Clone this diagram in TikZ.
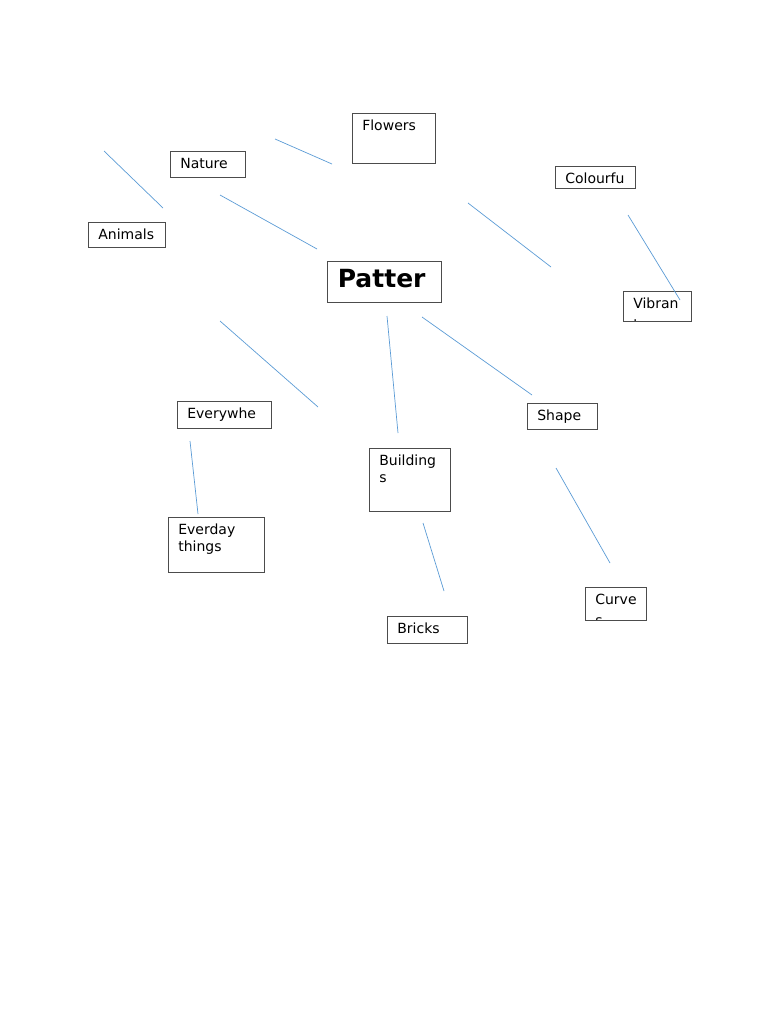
\documentclass[tikz,border=0pt]{standalone}
\usepackage{fontspec}
\setmainfont{DejaVu Sans}
\definecolor{linkblue}{RGB}{91,155,213}
\tikzset{
  box/.style={draw=black!70, line width=0.8pt, anchor=north west, inner sep=0pt},
  txt/.style={anchor=north west, inner sep=0pt, minimum size=0pt, align=left, font=\fontsize{14}{17}\selectfont},
  link/.style={draw=linkblue, line width=0.7pt}
}
\begin{document}
\begin{tikzpicture}[x=1pt, y=-1pt]
  \useasboundingbox (0,0) rectangle (768,1024);
  % text boxes, text clipped to the box
  \foreach \n/\x/\y/\w/\h/\t in {flowers/352/113/83/50/Flowers, nature/170/151/75/26/Nature,
      animals/88/222/77/25/Animals, colourful/555/166/80/22/Colourfu, vibrant/623/291/68/30/{Vibran\\[4pt]t},
      everywhere/177/401/94/27/Everywhe, buildings/369/448/81/63/{Building\\s},
      everyday/168/517/96/55/{Everday\\things}, shape/527/403/70/26/Shape,
      curves/585/587/61/33/{Curve\\[4pt]s}, bricks/387/616/80/27/Bricks}{
    \node[box, minimum width=\w, minimum height=\h,
      path picture={\node[txt] (\n-t) at ([shift={(9.5,6.5)}]path picture bounding box.north west) {\t};}] (\n) at (\x,\y) {};
  }
  \node[box, minimum width=114, minimum height=41,
    path picture={\node[txt, font=\bfseries\fontsize{25}{30}\selectfont] (pattern-t) at ([shift={(10,7)}]path picture bounding box.north west) {Patter};}] (pattern) at (327,261) {};
  % loose lines
  \foreach \i/\xa/\ya/\xb/\yb in {1/104/151/163/208, 2/275/139/332/164, 3/220/195/317/249,
      4/468/203/551/267, 5/628/215/680/300, 6/220/321/318/407, 7/387/316/398/433,
      8/422/317/532/395, 9/190/441/198/514, 10/423/523/444/591, 11/556/468/610/563}{
    \coordinate (l\i-a) at (\xa,\ya);
    \coordinate (l\i-b) at (\xb,\yb);
    \draw[link] (l\i-a) -- (l\i-b);
  }
\end{tikzpicture}
\end{document}
